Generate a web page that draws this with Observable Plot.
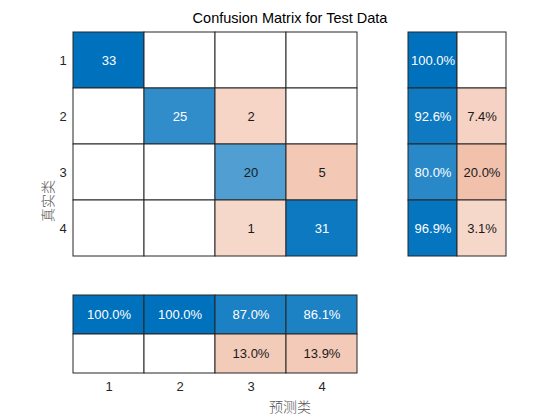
<!DOCTYPE html>
<html><head><meta charset="utf-8">
<script src="https://cdn.jsdelivr.net/npm/d3@7"></script>
<script src="https://cdn.jsdelivr.net/npm/@observablehq/plot@0.6"></script>
<style>
body{margin:0;background:#fff;}
#chart{position:relative;width:560px;height:420px;font-family:"Liberation Sans",Arial,sans-serif;overflow:hidden;}
#chart svg{position:absolute;left:0;top:0;}
.lbl{position:absolute;white-space:nowrap;color:#262626;transform:translate(-50%,-50%);}
</style></head><body><div id="chart"></div>
<script>
const classes = [1, 2, 3, 4];
const counts = [
  [33, 0, 0, 0],
  [0, 25, 2, 0],
  [0, 0, 20, 5],
  [0, 0, 1, 31]
];
const rowCorrect = [100.0, 92.6, 80.0, 96.9];
const rowWrong = [0, 7.4, 20.0, 3.1];
const colCorrect = [100.0, 100.0, 87.0, 86.1];
const colWrong = [0, 0, 13.0, 13.9];
const titleText = "Confusion Matrix for Test Data";
const xLabel = "预测类";
const yLabel = "真实类";

const blue = "rgb(0,114,189)";
const red = "rgb(217,83,25)";
const shadeT = f => f > 0 ? 0.2 + 0.8 * f : 0;
const shade = (base, f) => f > 0 ? d3.interpolateRgb("#ffffff", base)(shadeT(f)) : "#ffffff";
const ink = f => shadeT(f) > 0.75 ? "#ffffff" : "#1a1a1a";
const fmtPct = v => v.toFixed(1) + "%";

const W = 560, H = 420;
const FS = 13;
const font = {fontFamily: "'Liberation Sans', Arial, sans-serif", fontSize: FS + "px", color: "#262626", background: "transparent", overflow: "visible"};
const maxCount = d3.max(counts.flat());

// main matrix
const cells = [];
counts.forEach((row, i) => row.forEach((v, j) => cells.push({
  t: classes[i], p: classes[j], v, diag: i === j, f: v / maxCount
})));

const cellStroke = {stroke: "#262626", strokeWidth: 1, inset: 0};

const main = Plot.plot({
  width: W, height: H,
  marginLeft: 73.3, marginRight: W - 357.3, marginTop: 31.7, marginBottom: H - 255.7,
  style: font,
  x: {type: "band", domain: classes, padding: 0, axis: null},
  y: {type: "band", domain: classes, padding: 0, label: null},
  marks: [
    Plot.cell(cells, {x: "p", y: "t", fill: d => shade(d.diag ? blue : red, d.f), ...cellStroke}),
    Plot.text(cells.filter(d => d.v > 0), {x: "p", y: "t", text: d => String(d.v), fill: d => ink(d.f), fontSize: FS}),
    Plot.axisY({tickSize: 0, tickPadding: 7, fontSize: FS, label: null})
  ]
});

// row summary
const rowCells = [];
classes.forEach((c, i) => {
  rowCells.push({t: c, k: "c", v: rowCorrect[i], base: blue});
  rowCells.push({t: c, k: "w", v: rowWrong[i], base: red});
});
const rowSum = Plot.plot({
  width: W, height: H,
  marginLeft: 407.3, marginRight: W - 506.3, marginTop: 31.7, marginBottom: H - 255.7,
  style: font,
  x: {type: "band", domain: ["c", "w"], padding: 0, axis: null},
  y: {type: "band", domain: classes, padding: 0, axis: null},
  marks: [
    Plot.cell(rowCells, {x: "k", y: "t", fill: d => shade(d.base, d.v / 100), ...cellStroke}),
    Plot.text(rowCells.filter(d => d.v > 0), {x: "k", y: "t", text: d => fmtPct(d.v), fill: d => ink(d.v / 100), fontSize: FS})
  ]
});

// column summary
const colCells = [];
classes.forEach((c, j) => {
  colCells.push({p: c, k: "c", v: colCorrect[j], base: blue});
  colCells.push({p: c, k: "w", v: colWrong[j], base: red});
});
const colSum = Plot.plot({
  width: W, height: H,
  marginLeft: 73.3, marginRight: W - 357.3, marginTop: 295, marginBottom: H - 373.3,
  style: font,
  x: {type: "band", domain: classes, padding: 0, label: null},
  y: {type: "band", domain: ["c", "w"], padding: 0, axis: null},
  marks: [
    Plot.cell(colCells, {x: "p", y: "k", fill: d => shade(d.base, d.v / 100), ...cellStroke}),
    Plot.text(colCells.filter(d => d.v > 0), {x: "p", y: "k", text: d => fmtPct(d.v), fill: d => ink(d.v / 100), fontSize: FS}),
    Plot.axisX({tickSize: 0, tickPadding: 8, fontSize: FS, label: null})
  ]
});

const chart = document.getElementById("chart");
chart.append(main, rowSum, colSum);

function addLabel(text, x, y, size, extra) {
  const d = document.createElement("div");
  d.className = "lbl";
  d.textContent = text;
  d.style.left = x + "px";
  d.style.top = y + "px";
  d.style.fontSize = size + "px";
  Object.assign(d.style, extra || {});
  chart.append(d);
}
addLabel(titleText, 290, 18, 14.5, {color: "#000"});
addLabel(xLabel, 290, 406, 14, {fontFamily: "'Noto Sans CJK SC', sans-serif", color: "#555", fontWeight: "300"});
addLabel(yLabel, 47, 201, 14, {fontFamily: "'Noto Sans CJK SC', sans-serif", color: "#555", fontWeight: "300", transform: "translate(-50%,-50%) rotate(-90deg)"});
</script></body></html>
